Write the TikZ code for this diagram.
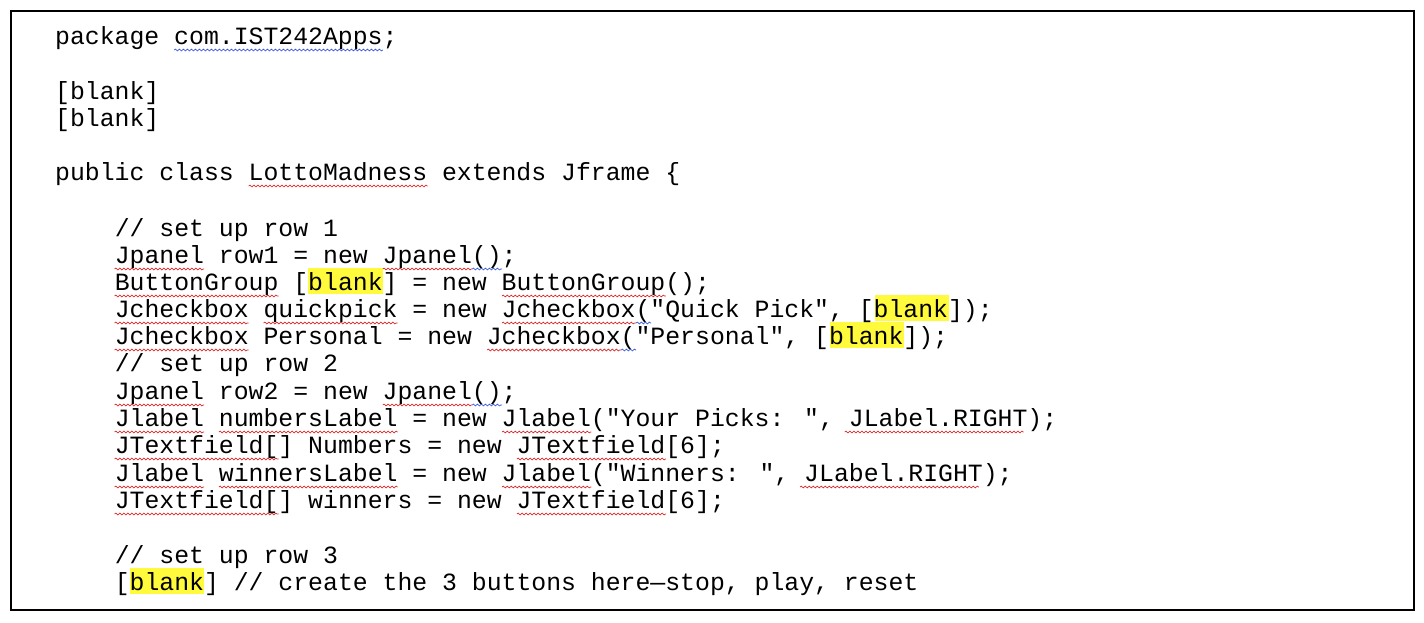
\documentclass[tikz,border=0pt]{standalone}
\usepackage{fontspec}
\usepackage{tikz}
\usetikzlibrary{decorations.pathmorphing}
\newfontfamily\codefont{Liberation Mono}
\definecolor{hlyellow}{RGB}{255,250,60}
\definecolor{spellred}{RGB}{220,40,40}
\definecolor{gramblue}{RGB}{60,90,220}
\tikzset{
  code/.style = {anchor=base west, inner sep=0pt, font=\codefont\fontsize{24.8}{27}\selectfont},
  hl/.style = {fill=hlyellow, draw=none},
  squig/.style = {decorate, decoration={snake, amplitude=0.9pt, segment length=4pt}, line width=0.7pt}
}
% line at pixel row #2, column #3
\newcommand{\codeline}[4]{\node[code] (#1) at ({55+14.9*#3},{-#2-9}) {#4};}
% yellow mark, row y, columns from #2 to #3
\newcommand{\hlmark}[3]{\fill[hl] ({55+14.9*#2},{-#1-13}) rectangle ({55+14.9*#3},{-#1+13});}
% wavy underline
\newcommand{\wavy}[4]{\draw[squig, #4] ({55+14.9*#2},{-#1-15}) -- ({55+14.9*#3},{-#1-15});}

\begin{document}
\begin{tikzpicture}[x=1pt, y=1pt]
  \useasboundingbox (0,0) rectangle (1424,-622);
  \draw[line width=1.2pt] (11,-11) rectangle (1414,-610);

  % highlights
  \hlmark{281}{17}{22}
  \hlmark{308}{55}{60}
  \hlmark{335}{52}{57}
  \hlmark{581}{5}{10}

  % code lines
  \codeline{l1}{35}{0}{package com.IST242Apps;}
  \codeline{l2}{90}{0}{[blank]}
  \codeline{l3}{117}{0}{[blank]}
  \codeline{l4}{171}{0}{public class LottoMadness extends Jframe \{}
  \codeline{l5}{227}{4}{// set up row 1}
  \codeline{l6}{254}{4}{Jpanel row1 = new Jpanel();}
  \codeline{l7}{281}{4}{ButtonGroup [blank] = new ButtonGroup();}
  \codeline{l8}{308}{4}{Jcheckbox quickpick = new Jcheckbox("Quick Pick", [blank]);}
  \codeline{l9}{335}{4}{Jcheckbox Personal = new Jcheckbox("Personal", [blank]);}
  \codeline{l10}{362}{4}{// set up row 2}
  \codeline{l11}{390}{4}{Jpanel row2 = new Jpanel();}
  \codeline{l12}{417}{4}{Jlabel numbersLabel = new Jlabel("Your Picks: ", JLabel.RIGHT);}
  \codeline{l13}{444}{4}{JTextfield[] Numbers = new JTextfield[6];}
  \codeline{l14}{472}{4}{Jlabel winnersLabel = new Jlabel("Winners: ", JLabel.RIGHT);}
  \codeline{l15}{499}{4}{JTextfield[] winners = new JTextfield[6];}
  \codeline{l16}{554}{4}{// set up row 3}
  \codeline{l17}{581}{4}{[blank] // create the 3 buttons here—stop, play, reset}

  % spelling marks
  \wavy{35}{8}{22}{gramblue}
  \wavy{171}{13}{25}{spellred}
  \wavy{254}{4}{10}{spellred} \wavy{254}{22}{28}{spellred} \wavy{254}{28}{30}{gramblue}
  \wavy{281}{4}{15}{spellred} \wavy{281}{30}{41}{spellred}
  \wavy{308}{4}{13}{spellred} \wavy{308}{14}{23}{spellred} \wavy{308}{30}{39}{spellred} \wavy{308}{39}{40}{gramblue}
  \wavy{335}{4}{13}{spellred} \wavy{335}{29}{38}{spellred} \wavy{335}{38}{39}{gramblue}
  \wavy{390}{4}{10}{spellred} \wavy{390}{22}{28}{spellred} \wavy{390}{28}{30}{gramblue}
  \wavy{417}{4}{10}{spellred} \wavy{417}{11}{23}{spellred} \wavy{417}{30}{36}{spellred} \wavy{417}{53}{65}{spellred}
  \wavy{444}{4}{15}{spellred} \wavy{444}{31}{41}{spellred}
  \wavy{472}{4}{10}{spellred} \wavy{472}{11}{23}{spellred} \wavy{472}{30}{36}{spellred} \wavy{472}{50}{62}{spellred}
  \wavy{499}{4}{15}{spellred} \wavy{499}{31}{41}{spellred}
\end{tikzpicture}
\end{document}
